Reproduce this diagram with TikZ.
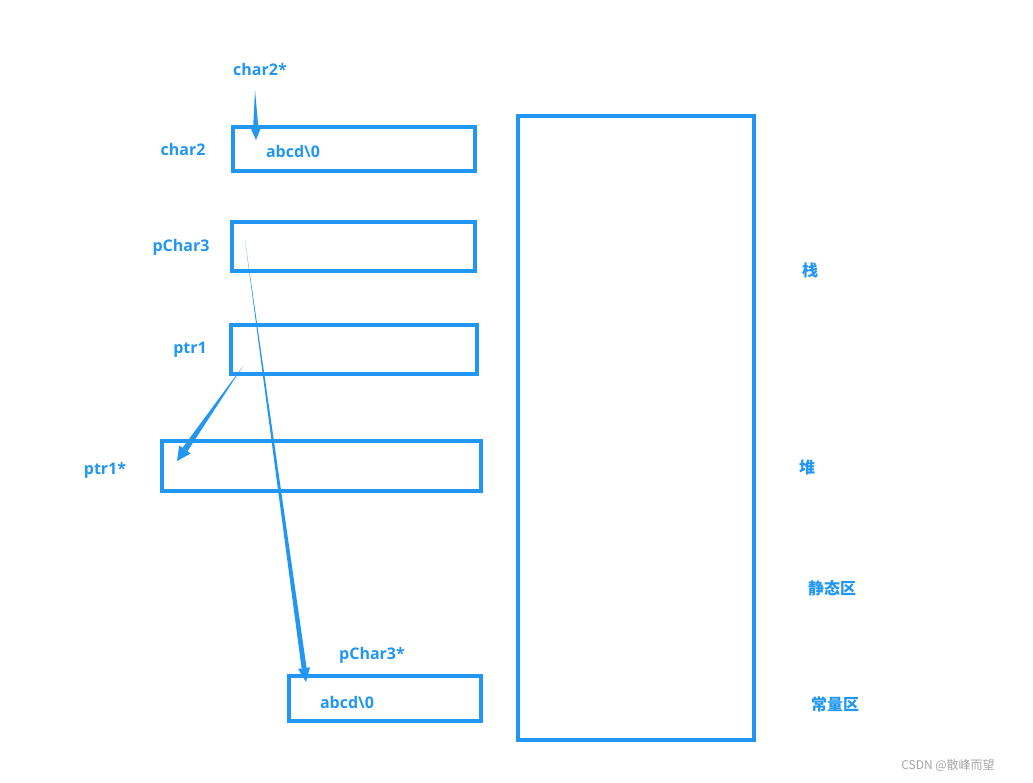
\documentclass[tikz,border=0pt]{standalone}
\usepackage{fontspec}
\setmainfont{Open Sans}
\newfontfamily\cjk{Noto Sans CJK SC}
\usetikzlibrary{calc}
\definecolor{bl}{RGB}{33,150,243}
\tikzset{box/.style={draw=bl,line width=4pt},
lbl/.style={text=bl,font=\fontsize{16}{18}\selectfont\bfseries,inner sep=0pt},
cj/.style={text=bl,font=\cjk\fontsize{16}{18}\selectfont\bfseries,inner sep=0pt}}
\newcommand{\taper}[4]{% start end shaftwidth headwidth
 \coordinate (m) at ($(#2)!14pt!(#1)$);
 \fill[bl] (#1) -- ($(m)!#3pt!90:(#2)$) -- ($(m)!#3pt!-90:(#2)$) -- cycle;
 \fill[bl] (#2) -- ($(m)!#4pt!90:(#2)$) -- ($(m)!#4pt!-90:(#2)$) -- cycle;}
\begin{document}
\begin{tikzpicture}[x=1pt,y=-1pt]
\useasboundingbox[fill=white] (0,0) rectangle (1033,783);
\draw[box] (233,127) rectangle (475,171);
\draw[box] (232,222) rectangle (475,271);
\draw[box] (231,325) rectangle (477,374);
\draw[box] (162,441) rectangle (481,491);
\draw[box] (289,676) rectangle (481,721);
\draw[box] (518,116) rectangle (754,740);
\node[lbl] (l1) at (260,70) {char2*};
\node[lbl] (l2) at (183,150) {char2};
\node[lbl] (l3) at (293,152) {abcd\textbackslash 0};
\node[lbl] (l4) at (181,247) {pChar3};
\node[lbl] (l5) at (190,350) {ptr1};
\node[lbl] (l6) at (105,470) {ptr1*};
\node[lbl] (l7) at (372,655) {pChar3*};
\node[lbl] (l8) at (347,702) {abcd\textbackslash 0};
\node[cj] (c1) at (810,270) {栈};
\node[cj] (c2) at (807,467) {堆};
\node[cj] (c3) at (832,588) {静态区};
\node[cj] (c4) at (835,704) {常量区};
\node[font=\fontsize{12}{14}\selectfont\cjk,text=gray!70,inner sep=0pt] (w) at (948,765) {CSDN @散峰而望};
\coordinate (a1) at (255,90); \coordinate (b1) at (256,140);
\coordinate (a2) at (243,366); \coordinate (b2) at (177,461);
\coordinate (a3) at (245,240); \coordinate (b3) at (306,682);
\taper{a1}{b1}{2.5}{6}
\taper{a2}{b2}{3}{7}
\taper{a3}{b3}{2.5}{6}
\end{tikzpicture}
\end{document}
